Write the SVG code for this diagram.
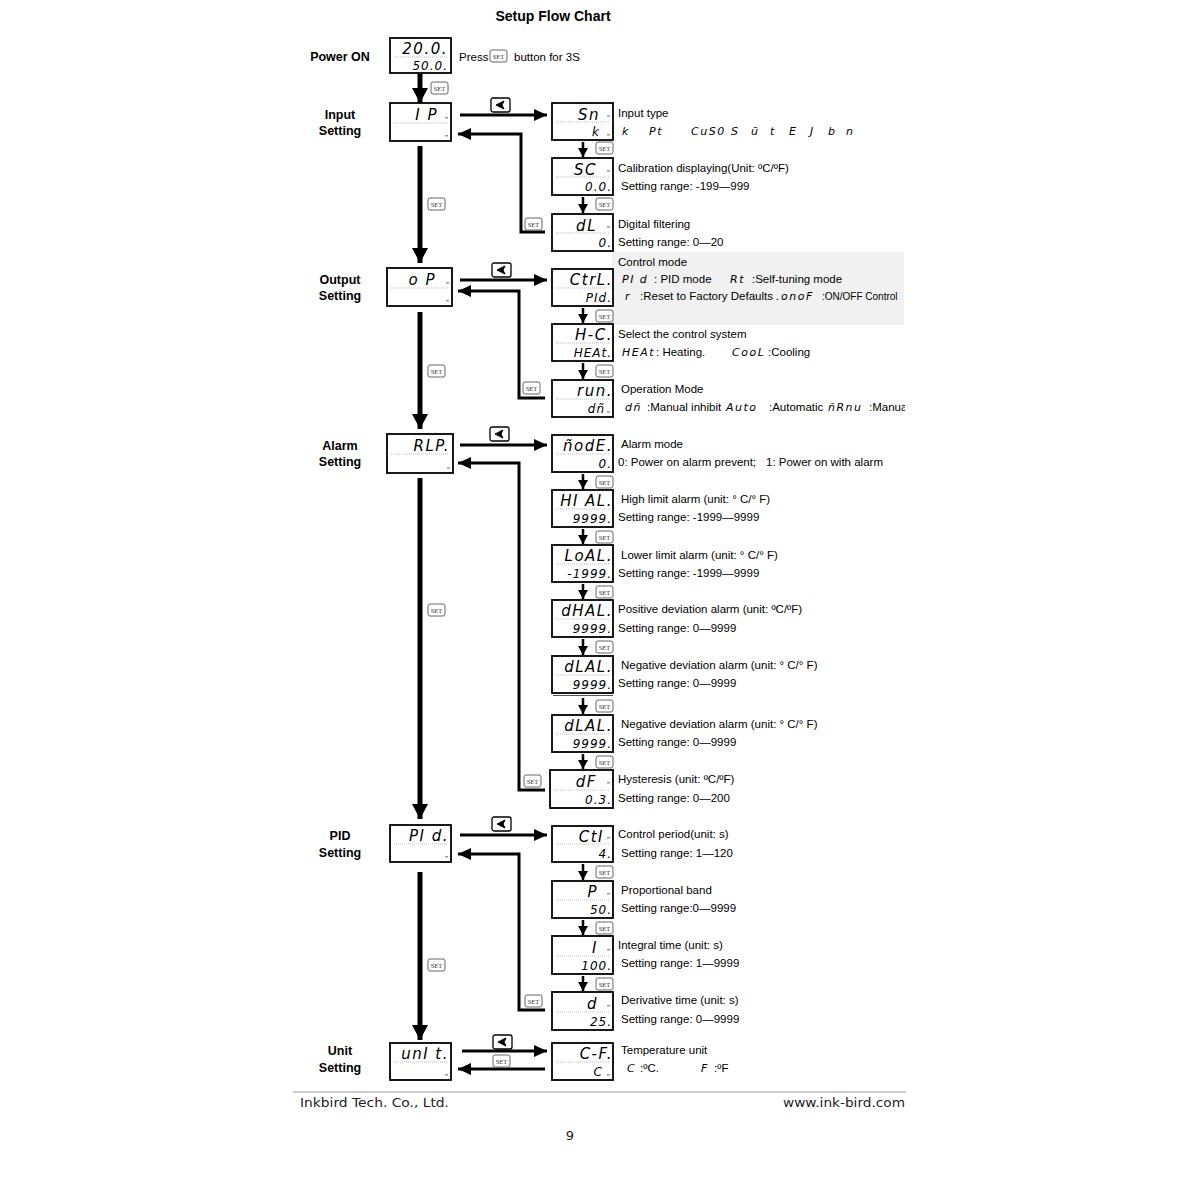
<svg xmlns="http://www.w3.org/2000/svg" xmlns:xlink="http://www.w3.org/1999/xlink" width="1200" height="1200" viewBox="0 0 1200 1200">
<style>
.title{font:bold 14px "Liberation Sans",Arial,sans-serif;fill:#000}
.lbl{font:bold 12.5px "Liberation Sans",Arial,sans-serif;fill:#000;text-anchor:middle}
.t{font:11.5px "Liberation Sans",Arial,sans-serif;fill:#000}
.ts{font:10px "Liberation Sans",Arial,sans-serif;fill:#000}
.seg{font:italic 15px "DejaVu Sans",sans-serif;fill:#000;text-anchor:end;letter-spacing:1.5px}
.segb{font:italic 12px "DejaVu Sans",sans-serif;fill:#000;text-anchor:end;letter-spacing:1px}
.sym{font:italic 11px "DejaVu Sans",sans-serif;fill:#000;letter-spacing:1.5px}
.box{fill:#fff;stroke:#000;stroke-width:1.8}
.sep{stroke:#aaa;stroke-width:0.8;stroke-dasharray:1 1}
.ind{fill:#999}
.thick{stroke:#000;stroke-width:5;fill:none}
.mid{stroke:#000;stroke-width:3;fill:none}
.thin{stroke:#000;stroke-width:2.5;fill:none}
.foot{font:13px "DejaVu Sans",Verdana,sans-serif;fill:#222}
.seticon{fill:#fff;stroke:#666;stroke-width:1}
.settxt{font:6.5px "Liberation Serif",serif;fill:#333;text-anchor:middle}
</style>
<defs>
<marker id="hb" markerUnits="userSpaceOnUse" markerWidth="16" markerHeight="16" refX="15" refY="8" orient="auto"><path d="M0,0 L15,8 L0,16 z" fill="#000"/></marker>
<marker id="hm" markerUnits="userSpaceOnUse" markerWidth="13" markerHeight="12" refX="13" refY="6" orient="auto"><path d="M0,0 L13,6 L0,12 z" fill="#000"/></marker>
<marker id="hs" markerUnits="userSpaceOnUse" markerWidth="10" markerHeight="10" refX="9" refY="5" orient="auto"><path d="M0,0 L9,5 L0,10 z" fill="#000"/></marker>
<g id="set"><rect class="seticon" x="0" y="0" width="17" height="12" rx="2"/><text class="settxt" x="8.5" y="8.5">SET</text></g>
<g id="left"><rect x="0" y="0" width="19" height="14" rx="2" fill="#fff" stroke="#000" stroke-width="1.3"/><path d="M13,3 L5,7 L13,11 L11,7 z" fill="#000" stroke="#000" stroke-width="1"/></g>
<clipPath id="clipR"><rect x="600" y="395" width="305" height="20"/></clipPath>
</defs>

<text class="title" x="553" y="21" text-anchor="middle">Setup Flow Chart</text>

<rect x="612" y="252" width="292" height="73" fill="#f1f1f1"/>

<!-- Left labels -->
<text class="lbl" x="340" y="61">Power ON</text>
<text class="lbl" x="340" y="119">Input</text><text class="lbl" x="340" y="135">Setting</text>
<text class="lbl" x="340" y="284">Output</text><text class="lbl" x="340" y="300">Setting</text>
<text class="lbl" x="340" y="450">Alarm</text><text class="lbl" x="340" y="466">Setting</text>
<text class="lbl" x="340" y="840">PID</text><text class="lbl" x="340" y="857">Setting</text>
<text class="lbl" x="340" y="1055">Unit</text><text class="lbl" x="340" y="1072">Setting</text>

<!-- Connectors -->
<g id="connectors">
<path class="thick" d="M420,74 V103" marker-end="url(#hb)"/>
<path class="thick" d="M420,146 V263" marker-end="url(#hb)"/>
<path class="thick" d="M420,312 V429" marker-end="url(#hb)"/>
<path class="thick" d="M420,478 V819" marker-end="url(#hb)"/>
<path class="thick" d="M420,872 V1040" marker-end="url(#hb)"/>
<path class="mid" d="M460,115 H547" marker-end="url(#hm)"/>
<path class="mid" d="M460,280 H547" marker-end="url(#hm)"/>
<path class="mid" d="M460,445 H547" marker-end="url(#hm)"/>
<path class="mid" d="M460,835 H547" marker-end="url(#hm)"/>
<path class="mid" d="M462,1051 H547" marker-end="url(#hm)"/>
<path class="mid" d="M545,232 H521 V134 H458" marker-end="url(#hm)"/>
<path class="mid" d="M545,398 H519 V291 H458" marker-end="url(#hm)"/>
<path class="mid" d="M545,790 H519 V463 H458" marker-end="url(#hm)"/>
<path class="mid" d="M545,1010 H519 V854 H458" marker-end="url(#hm)"/>
<path class="mid" d="M545,1069 H458" marker-end="url(#hm)"/>
<path class="thin" d="M583,142 V157" marker-end="url(#hs)"/>
<path class="thin" d="M583,197 V213" marker-end="url(#hs)"/>
<path class="thin" d="M583,308 V323" marker-end="url(#hs)"/>
<path class="thin" d="M583,363 V379" marker-end="url(#hs)"/>
<path class="thin" d="M583,474 V489" marker-end="url(#hs)"/>
<path class="thin" d="M583,529 V544" marker-end="url(#hs)"/>
<path class="thin" d="M583,584 V599" marker-end="url(#hs)"/>
<path class="thin" d="M583,639 V655" marker-end="url(#hs)"/>
<path class="thin" d="M583,698 V714" marker-end="url(#hs)"/>
<path class="thin" d="M583,754 V769" marker-end="url(#hs)"/>
<path class="thin" d="M583,864 V880" marker-end="url(#hs)"/>
<path class="thin" d="M583,920 V935" marker-end="url(#hs)"/>
<path class="thin" d="M583,976 V991" marker-end="url(#hs)"/>
<!-- icons on connectors -->
<use href="#set" x="431" y="82"/>
<use href="#set" x="428" y="198"/>
<use href="#set" x="428" y="365"/>
<use href="#set" x="428" y="604"/>
<use href="#set" x="428" y="959"/>
<use href="#left" x="491" y="98"/>
<use href="#left" x="492" y="263"/>
<use href="#left" x="490" y="427"/>
<use href="#left" x="492" y="817"/>
<use href="#left" x="493" y="1035"/>
<use href="#set" x="493" y="1055"/>
<use href="#set" x="525" y="218"/>
<use href="#set" x="523" y="382"/>
<use href="#set" x="524" y="775"/>
<use href="#set" x="525" y="995"/>
<use href="#set" x="596" y="142"/>
<use href="#set" x="596" y="198"/>
<use href="#set" x="596" y="310"/>
<use href="#set" x="596" y="365"/>
<use href="#set" x="596" y="476"/>
<use href="#set" x="596" y="531"/>
<use href="#set" x="596" y="586"/>
<use href="#set" x="596" y="641"/>
<use href="#set" x="596" y="700"/>
<use href="#set" x="596" y="756"/>
<use href="#set" x="596" y="866"/>
<use href="#set" x="596" y="922"/>
<use href="#set" x="596" y="978"/>
</g>

<text class="t" x="459" y="61">Press</text>
<use href="#set" x="490" y="50"/>
<text class="t" x="514" y="61">button for 3S</text>

<!-- Main displays -->
<g id="n-power"><rect class="box" x="390" y="38" width="61" height="35"/><line class="sep" x1="394" y1="57" x2="447" y2="57"/><text class="seg" x="448" y="54">20.0.</text><text class="segb" x="448" y="70">50.0.</text></g>
<g id="n-input"><rect class="box" x="390" y="103" width="61" height="38"/><line class="sep" x1="394" y1="123" x2="447" y2="123"/><text class="seg" x="438" y="120">I P</text><rect class="ind" x="445" y="117" width="3" height="1.5"/><rect class="ind" x="445" y="135" width="3" height="1.5"/></g>
<g id="n-output"><rect class="box" x="387" y="268" width="65" height="38"/><line class="sep" x1="391" y1="288" x2="448" y2="288"/><text class="seg" x="436" y="285">o P</text><rect class="ind" x="446" y="282" width="3" height="1.5"/><rect class="ind" x="446" y="300" width="3" height="1.5"/></g>
<g id="n-alarm"><rect class="box" x="387" y="434" width="66" height="39"/><line class="sep" x1="391" y1="454" x2="449" y2="454"/><text class="seg" x="450" y="451">RLP.</text><rect class="ind" x="447" y="467" width="3" height="1.5"/></g>
<g id="n-pid"><rect class="box" x="390" y="825" width="61" height="37"/><line class="sep" x1="394" y1="844" x2="447" y2="844"/><text class="seg" x="449" y="841">PI d.</text><rect class="ind" x="445" y="856" width="3" height="1.5"/></g>
<g id="n-unit"><rect class="box" x="390" y="1043" width="61" height="37"/><line class="sep" x1="394" y1="1062" x2="447" y2="1062"/><text class="seg" x="449" y="1059">unI t.</text><rect class="ind" x="445" y="1074" width="3" height="1.5"/></g>

<!-- Input sub-displays -->
<g id="n-sn"><rect class="box" x="552" y="103" width="61" height="37"/><line class="sep" x1="556" y1="122" x2="609" y2="122"/><text class="seg" x="600" y="120">Sn</text><text class="segb" x="600" y="136">k</text><rect class="ind" x="607" y="115" width="3" height="1.5"/><rect class="ind" x="607" y="134" width="3" height="1.5"/></g>
<text class="t" x="618" y="117">Input type</text>
<text class="sym" y="135"><tspan x="622">k</tspan><tspan x="649">Pt</tspan><tspan x="691">CuS0</tspan><tspan x="731">S</tspan><tspan x="751">ū</tspan><tspan x="770">t</tspan><tspan x="789">E</tspan><tspan x="810">J</tspan><tspan x="828">b</tspan><tspan x="846">n</tspan></text>

<g id="n-sc"><rect class="box" x="552" y="158" width="61" height="37"/><line class="sep" x1="556" y1="177" x2="609" y2="177"/><text class="seg" x="597" y="175">SC</text><text class="segb" x="612" y="191">0.0.</text><rect class="ind" x="607" y="170" width="3" height="1.5"/></g>
<text class="t" x="618" y="172">Calibration displaying(Unit: ºC/ºF)</text>
<text class="t" x="621" y="190">Setting range: -199—999</text>

<g id="n-dl"><rect class="box" x="552" y="214" width="61" height="37"/><line class="sep" x1="556" y1="233" x2="609" y2="233"/><text class="seg" x="597" y="231">dL</text><text class="segb" x="612" y="247">0.</text><rect class="ind" x="607" y="226" width="3" height="1.5"/></g>
<text class="t" x="618" y="228">Digital filtering</text>
<text class="t" x="618" y="246">Setting range: 0—20</text>

<!-- Output sub-displays -->
<g id="n-ctrl"><rect class="box" x="552" y="269" width="61" height="37"/><line class="sep" x1="556" y1="288" x2="609" y2="288"/><text class="seg" x="613" y="285">CtrL.</text><text class="segb" x="612" y="302">PId.</text></g>
<text class="t" x="618" y="266">Control mode</text>
<text class="t" y="283"><tspan class="sym" x="622">PI d</tspan><tspan x="654">: PID mode</tspan><tspan class="sym" x="730">Rt</tspan><tspan x="752">:Self-tuning mode</tspan></text>
<text class="t" y="300"><tspan class="sym" x="625">r</tspan><tspan x="640">:Reset to Factory Defaults</tspan><tspan class="sym" x="776">.onoF</tspan><tspan class="ts" x="822">:ON/OFF Control</tspan></text>

<g id="n-hc"><rect class="box" x="552" y="324" width="61" height="37"/><line class="sep" x1="556" y1="343" x2="609" y2="343"/><text class="seg" x="613" y="340">H-C.</text><text class="segb" x="612" y="357">HEAt.</text></g>
<text class="t" x="618" y="338">Select the control system</text>
<text class="t" y="356"><tspan class="sym" x="622">HEAt</tspan><tspan x="656">: Heating.</tspan><tspan class="sym" x="732">CooL</tspan><tspan x="768">:Cooling</tspan></text>

<g id="n-run"><rect class="box" x="552" y="380" width="61" height="37"/><line class="sep" x1="556" y1="399" x2="609" y2="399"/><text class="seg" x="613" y="396">run.</text><text class="segb" x="605" y="413">dñ</text><rect class="ind" x="607" y="411" width="3" height="1.5"/></g>
<text class="t" x="621" y="393">Operation Mode</text>
<g clip-path="url(#clipR)"><text class="t" y="411"><tspan class="sym" x="625">dñ</tspan><tspan x="647">:Manual inhibit</tspan><tspan class="sym" x="726">Auto</tspan><tspan x="769">:Automatic</tspan><tspan class="sym" x="828">ñRnu</tspan><tspan x="869">:Manual</tspan></text></g>

<!-- Alarm sub-displays -->
<g id="n-mode"><rect class="box" x="552" y="435" width="61" height="37"/><line class="sep" x1="556" y1="454" x2="609" y2="454"/><text class="seg" x="613" y="451">ñodE.</text><text class="segb" x="612" y="468">0.</text></g>
<text class="t" x="621" y="448">Alarm mode</text>
<text class="t" y="466"><tspan x="618">0: Power on alarm prevent;</tspan><tspan x="766">1: Power on with alarm</tspan></text>

<g id="n-hial"><rect class="box" x="552" y="490" width="61" height="37"/><line class="sep" x1="556" y1="509" x2="609" y2="509"/><text class="seg" x="613" y="506">HI AL.</text><text class="segb" x="612" y="523">9999.</text></g>
<text class="t" x="621" y="503">High limit alarm (unit: ° C/° F)</text>
<text class="t" x="618" y="521">Setting range: -1999—9999</text>

<g id="n-loal"><rect class="box" x="552" y="545" width="61" height="37"/><line class="sep" x1="556" y1="564" x2="609" y2="564"/><text class="seg" x="613" y="561">LoAL.</text><text class="segb" x="612" y="578">-1999.</text></g>
<text class="t" x="621" y="559">Lower limit alarm (unit: ° C/° F)</text>
<text class="t" x="618" y="577">Setting range: -1999—9999</text>

<g id="n-dhal"><rect class="box" x="552" y="600" width="61" height="37"/><line class="sep" x1="556" y1="619" x2="609" y2="619"/><text class="seg" x="613" y="616">dHAL.</text><text class="segb" x="612" y="633">9999.</text></g>
<text class="t" x="618" y="613">Positive deviation alarm (unit: ºC/ºF)</text>
<text class="t" x="618" y="632">Setting range: 0—9999</text>

<g id="n-dlal1"><rect class="box" x="552" y="656" width="61" height="37"/><line x1="553" y1="695.5" x2="613" y2="695.5" stroke="#555" stroke-width="1.2"/><line class="sep" x1="556" y1="675" x2="609" y2="675"/><text class="seg" x="613" y="672">dLAL.</text><text class="segb" x="612" y="689">9999.</text></g>
<text class="t" x="621" y="669">Negative deviation alarm (unit: ° C/° F)</text>
<text class="t" x="618" y="687">Setting range: 0—9999</text>

<g id="n-dlal2"><rect class="box" x="552" y="715" width="61" height="37"/><line class="sep" x1="556" y1="734" x2="609" y2="734"/><text class="seg" x="613" y="731">dLAL.</text><text class="segb" x="612" y="748">9999.</text></g>
<text class="t" x="621" y="728">Negative deviation alarm (unit: ° C/° F)</text>
<text class="t" x="618" y="746">Setting range: 0—9999</text>

<g id="n-df"><rect class="box" x="550" y="770" width="63" height="38"/><line class="sep" x1="554" y1="790" x2="609" y2="790"/><text class="seg" x="597" y="787">dF</text><text class="segb" x="612" y="804">0.3.</text><rect class="ind" x="607" y="782" width="3" height="1.5"/></g>
<text class="t" x="618" y="783">Hysteresis (unit: ºC/ºF)</text>
<text class="t" x="618" y="802">Setting range: 0—200</text>

<!-- PID sub-displays -->
<g id="n-cti"><rect class="box" x="552" y="826" width="61" height="36"/><line class="sep" x1="556" y1="844" x2="609" y2="844"/><text class="seg" x="604" y="842">CtI</text><text class="segb" x="612" y="858">4.</text><rect class="ind" x="607" y="837" width="3" height="1.5"/></g>
<text class="t" x="618" y="838">Control period(unit: s)</text>
<text class="t" x="621" y="857">Setting range: 1—120</text>

<g id="n-p"><rect class="box" x="552" y="881" width="61" height="37"/><line class="sep" x1="556" y1="900" x2="609" y2="900"/><text class="seg" x="598" y="897">P</text><text class="segb" x="612" y="914">50.</text><rect class="ind" x="607" y="893" width="3" height="1.5"/></g>
<text class="t" x="621" y="894">Proportional band</text>
<text class="t" x="621" y="912">Setting range:0—9999</text>

<g id="n-i"><rect class="box" x="552" y="936" width="61" height="38"/><line class="sep" x1="556" y1="956" x2="609" y2="956"/><text class="seg" x="598" y="953">I</text><text class="segb" x="612" y="970">100.</text><rect class="ind" x="607" y="949" width="3" height="1.5"/></g>
<text class="t" x="618" y="949">Integral time (unit: s)</text>
<text class="t" x="621" y="967">Setting range: 1—9999</text>

<g id="n-d"><rect class="box" x="552" y="992" width="61" height="38"/><line class="sep" x1="556" y1="1012" x2="609" y2="1012"/><text class="seg" x="598" y="1009">d</text><text class="segb" x="612" y="1026">25.</text><rect class="ind" x="607" y="1005" width="3" height="1.5"/></g>
<text class="t" x="621" y="1004">Derivative time (unit: s)</text>
<text class="t" x="621" y="1023">Setting range: 0—9999</text>

<!-- Unit sub-display -->
<g id="n-cf"><rect class="box" x="552" y="1043" width="61" height="37"/><line class="sep" x1="556" y1="1062" x2="609" y2="1062"/><text class="seg" x="613" y="1059">C-F.</text><text class="segb" x="603" y="1076">C</text><rect class="ind" x="607" y="1074" width="3" height="1.5"/></g>
<text class="t" x="621" y="1054">Temperature unit</text>
<text class="t" y="1072"><tspan class="sym" x="627">C</tspan><tspan x="640">:ºC.</tspan><tspan class="sym" x="701">F</tspan><tspan x="714">:ºF</tspan></text>

<!-- Footer -->
<line x1="293" y1="1092" x2="906" y2="1092" stroke="#999" stroke-width="1"/>
<text class="foot" x="300" y="1107" textLength="149" lengthAdjust="spacingAndGlyphs">Inkbird Tech. Co., Ltd.</text>
<text class="foot" x="905" y="1107" text-anchor="end" textLength="122" lengthAdjust="spacingAndGlyphs">www.ink-bird.com</text>
<text class="foot" x="570" y="1140" text-anchor="middle" font-size="12">9</text>
</svg>
